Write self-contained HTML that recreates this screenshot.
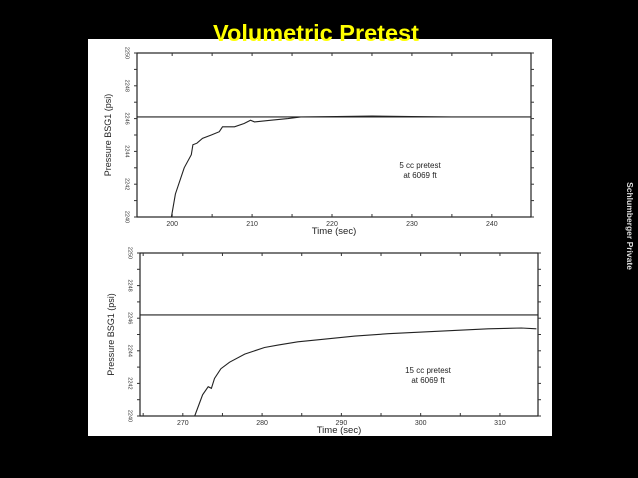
<!DOCTYPE html>
<html><head><meta charset="utf-8"><style>
body{margin:0;background:#000;width:638px;height:478px;overflow:hidden;position:relative;font-family:"Liberation Sans",sans-serif}
#panel{position:absolute;left:88px;top:39px;width:464px;height:397px;background:#fff}
#title{position:absolute;left:0;width:632px;text-align:center;top:20px;font-size:23.5px;font-weight:bold;color:#ff0;line-height:26px}
svg{position:absolute;left:0;top:0}
</style></head><body>
<div id="panel"></div>
<svg id="chart" width="638" height="478"></svg>
<div id="title">Volumetric Pretest</div>
<svg width="638" height="478"><text x="629" y="226" transform="rotate(90 629 226)" text-anchor="middle" dominant-baseline="middle" font-size="8.5" font-weight="bold" fill="#ddd" font-family="Liberation Sans, sans-serif">Schlumberger Private</text></svg>
<script>
const topTimes=[199.9,200.4,201.5,202.4,202.6,203.1,203.8,204.9,205.9,206.3,207.8,209,209.8,210.3,212.4,214.5,216.1,225,235,244.9];
const topPressure=[2240,2241.4,2243,2243.8,2244.4,2244.5,2244.8,2245,2245.2,2245.5,2245.5,2245.7,2245.9,2245.8,2245.9,2246,2246.1,2246.15,2246.1,2246.1];
const topRef=[2246.1];
const topXTicks=[200,210,220,230,240];
const botTimes=[271.5,272.5,273.2,273.6,274,274.8,275.9,277.8,280.3,282,284.5,287.5,291.7,295.9,300.1,304.3,308.5,312.7,314.6];
const botPressure=[2240,2241.3,2241.8,2241.7,2242.3,2242.9,2243.3,2243.8,2244.2,2244.35,2244.55,2244.7,2244.9,2245.05,2245.15,2245.25,2245.35,2245.4,2245.35];
const botRef=[2246.2];
const botXTicks=[270,280,290,300,310];
const yTicks=[2240,2242,2244,2246,2248,2250];
const NS='http://www.w3.org/2000/svg';
const svg=document.getElementById('chart');
function mk(t,a,p){const e=document.createElementNS(NS,t);for(const k in a)e.setAttribute(k,a[k]);(p||svg).appendChild(e);return e;}
function panel(cfg){
 const g=mk('g',{});
 
 
 const X=v=>cfg.l+(v-cfg.x0)/(cfg.x1-cfg.x0)*(cfg.r-cfg.l);
 const Y=v=>cfg.b-(v-2240)/10*(cfg.b-cfg.t);
 const fr=mk('rect',{x:cfg.l,y:cfg.t,width:cfg.r-cfg.l,height:cfg.b-cfg.t,fill:'none',stroke:'#222','stroke-width':1.2},g);
 
 for(let v=Math.ceil(cfg.x0/5)*5;v<=cfg.x1;v+=5){
  mk('line',{x1:X(v),x2:X(v),y1:cfg.b,y2:cfg.b-3,stroke:'#333'},g);
  mk('line',{x1:X(v),x2:X(v),y1:cfg.t,y2:cfg.t+3,stroke:'#333'},g);
 }
 for(let v=2240;v<=2250;v+=1){
  mk('line',{x1:cfg.l,x2:cfg.l-3,y1:Y(v),y2:Y(v),stroke:'#333'},g);
  mk('line',{x1:cfg.r,x2:cfg.r+3,y1:Y(v),y2:Y(v),stroke:'#333'},g);
 }
 cfg.xt.forEach(v=>{const t=mk('text',{x:X(v),y:cfg.b+9,'font-size':7,'text-anchor':'middle',fill:'#333'},g);t.textContent=v;
  });
 yTicks.forEach(v=>{const t=mk('text',{x:cfg.l-10,y:Y(v),'font-size':5.5,'text-anchor':'middle',fill:'#333',transform:`rotate(90 ${cfg.l-10} ${Y(v)})`,'dominant-baseline':'middle'},g);t.textContent=v;
  });
 const xt=mk('text',{x:(cfg.l+cfg.r)/2,y:cfg.b+17,'font-size':9.5,'text-anchor':'middle',fill:'#222'},g);xt.textContent='Time (sec)';
 
 const cy=(cfg.t+cfg.b)/2,cx=cfg.l-26;
 const yt=mk('text',{x:cx,y:cy,'font-size':9,'text-anchor':'middle',fill:'#222',transform:`rotate(-90 ${cx} ${cy})`},g);yt.textContent='Pressure BSG1 (psi)';
 
 const rl=mk('line',{x1:cfg.l,x2:cfg.r,y1:Y(cfg.ref[0]),y2:Y(cfg.ref[0]),stroke:'#222','stroke-width':1.2},g);
 
 const pts=cfg.xs.map((x,i)=>X(x).toFixed(1)+','+Y(cfg.ys[i]).toFixed(1)).join(' ');
 const pl=mk('polyline',{points:pts,fill:'none',stroke:'#222','stroke-width':1.1},g);
 
 cfg.ann.forEach((s,i)=>{const t=mk('text',{x:cfg.ax,y:cfg.ay+i*10,'font-size':8,'text-anchor':'middle',fill:'#222'},g);t.textContent=s;
  });
}
panel({name:'top-chart-5cc',l:137,r:531,t:53,b:217,x0:195.6,x1:244.9,xs:topTimes,ys:topPressure,ref:topRef,xt:topXTicks,ann:['5 cc pretest','at  6069 ft'],ax:420,ay:168});
panel({name:'bottom-chart-15cc',l:140,r:538,t:253,b:416,x0:264.6,x1:314.8,xs:botTimes,ys:botPressure,ref:botRef,xt:botXTicks,ann:['15 cc pretest','at 6069 ft'],ax:428,ay:373});
</script>
</body></html>
